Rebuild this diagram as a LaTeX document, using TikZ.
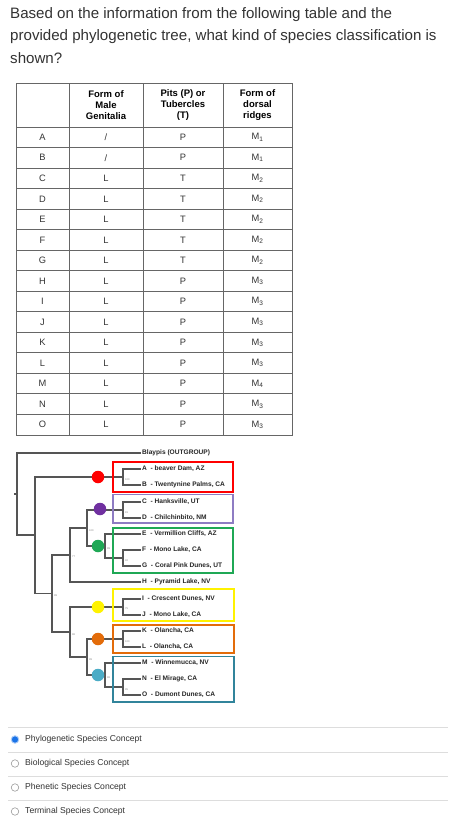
\documentclass[tikz,border=0pt]{standalone}
\usepackage{fontspec}
\setmainfont{Liberation Sans}
\definecolor{txt}{HTML}{333333}
\definecolor{gridc}{HTML}{666666}
\definecolor{brc}{HTML}{555555}
\definecolor{cRed}{HTML}{FF0000}
\definecolor{cPurple}{HTML}{7030A0}
\definecolor{cPurpleBox}{HTML}{8E7CC3}
\definecolor{cGreen}{HTML}{1FA855}
\definecolor{cYellow}{HTML}{FFF200}
\definecolor{cOrange}{HTML}{E36C0A}
\definecolor{cBlue}{HTML}{4BACC6}
\definecolor{cBlueBox}{HTML}{31849B}
\definecolor{sepc}{HTML}{DDDDDD}
\definecolor{radioc}{HTML}{9E9E9E}
\definecolor{selc}{HTML}{1A73E8}
\newcommand{\gslash}{/}
\begin{document}
\begin{tikzpicture}[x=1pt,y=-1pt,
  head/.style={anchor=base west, inner sep=0pt, font=\fontsize{15.1}{17}\selectfont, text=txt},
  gridline/.style={draw=gridc, line width=0.8pt},
  hdr/.style={align=center, inner sep=0pt, font=\fontsize{9.5}{11}\selectfont\bfseries, text=black},
  cell/.style={inner sep=0pt, font=\fontsize{9.3}{10}\selectfont, text=txt},
  br/.style={draw=brc, line width=1.2pt},
  leaf/.style={anchor=west, inner sep=1pt, font=\fontsize{6.6}{7}\selectfont\bfseries, text=black!85},
  boot/.style={inner sep=0pt, font=\fontsize{2.6}{3}\selectfont, text=gray, anchor=north west},
  cladebox/.style={line width=1.6pt},
  dot/.style={circle, inner sep=0pt, minimum size=12.5pt},
  sepline/.style={draw=sepc, line width=0.8pt},
  radio/.style={circle, draw=radioc, line width=0.6pt, inner sep=0pt, minimum size=7.5pt, fill=white},
  radiosel/.style={circle, draw=selc!35, line width=0.9pt, inner sep=0pt, minimum size=7.5pt, fill=selc},
  opt/.style={anchor=west, inner sep=0pt, font=\fontsize{8.6}{10}\selectfont, text=txt}
]
\useasboundingbox[fill=white] (0,0) rectangle (457,825);

% ---------- question ----------
\node[head] (q1) at (10,18) {Based on the information from the following table and the};
\node[head] (q2) at (10,40.5) {provided phylogenetic tree, what kind of species classification is};
\node[head] (q3) at (10,63) {shown?};

% ---------- table ----------
\draw[gridline] (16,83) rectangle (292,435);
\foreach \xx in {69,143,223} \draw[gridline] (\xx,83) -- (\xx,435);
\draw[gridline] (16,127) -- (292,127);
\foreach \k in {1,...,14} \draw[gridline] (16,127+20.53*\k) -- (292,127+20.53*\k);

\node[hdr] (h2) at (106,105) {Form of\\Male\\Genitalia};
\node[hdr] (h3) at (183,105) {Pits (P) or\\Tubercles\\(T)};
\node[hdr] (h4) at (257.5,105) {Form of\\dorsal\\ridges};

\foreach \la/\ge/\pt/\mm [count=\i from 0] in {A/\gslash/P/1, B/\gslash/P/1, C/L/T/2, D/L/T/2, E/L/T/2, F/L/T/2, G/L/T/2, H/L/P/3, I/L/P/3, J/L/P/3, K/L/P/3, L/L/P/3, M/L/P/4, N/L/P/3, O/L/P/3} {
  \node[cell] (ra\i) at (42.5,{127+20.53*(\i+0.5)}) {\la};
  \node[cell] (rb\i) at (106,{127+20.53*(\i+0.5)}) {\ge};
  \node[cell] (rc\i) at (183,{127+20.53*(\i+0.5)}) {\pt};
  \node[cell] (rd\i) at (257.5,{127+20.53*(\i+0.5)}) {M\textsubscript{\mm}};
}

% ---------- tree ----------
% leaves
\coordinate (lOG) at (141,453);
\coordinate (lA) at (141,469);
\coordinate (lB) at (141,485);
\coordinate (lC) at (141,502);
\coordinate (lD) at (141,518);
\coordinate (lE) at (141,534);
\coordinate (lF) at (141,550);
\coordinate (lG) at (141,566);
\coordinate (lH) at (141,582);
\coordinate (lI) at (141,599);
\coordinate (lJ) at (141,615);
\coordinate (lK) at (141,631);
\coordinate (lL) at (141,647);
\coordinate (lM) at (141,663);
\coordinate (lN) at (141,679);
\coordinate (lO) at (141,695);
% internal nodes
\coordinate (nAB) at (123,477);
\coordinate (nCD) at (123,510);
\coordinate (nFG) at (123,558);
\coordinate (nEFG) at (105,546);
\coordinate (nCG) at (87,528);
\coordinate (nCH) at (70,555);
\coordinate (nIJ) at (123,607);
\coordinate (nKL) at (123,639);
\coordinate (nNO) at (123,687);
\coordinate (nMNO) at (105,675);
\coordinate (nKO) at (87,657);
\coordinate (nIO) at (70,632);
\coordinate (nCO) at (52,593.5);
\coordinate (nIn) at (35,535);
\coordinate (nRoot) at (17,494);
\coordinate (stub) at (14,494);

\draw[br] (nRoot) |- (lOG);
\draw[br] (nRoot) |- (nIn);
\draw[br] (stub) -- (nRoot);
\draw[br] (nIn) |- (nAB);
\draw[br] (nIn) |- (nCO);
\draw[br] (nAB) |- (lA);
\draw[br] (nAB) |- (lB);
\draw[br] (nCO) |- (nCH);
\draw[br] (nCO) |- (nIO);
\draw[br] (nCH) |- (nCG);
\draw[br] (nCH) |- (lH);
\draw[br] (nCG) |- (nCD);
\draw[br] (nCG) |- (nEFG);
\draw[br] (nCD) |- (lC);
\draw[br] (nCD) |- (lD);
\draw[br] (nEFG) |- (lE);
\draw[br] (nEFG) |- (nFG);
\draw[br] (nFG) |- (lF);
\draw[br] (nFG) |- (lG);
\draw[br] (nIO) |- (nIJ);
\draw[br] (nIO) |- (nKO);
\draw[br] (nIJ) |- (lI);
\draw[br] (nIJ) |- (lJ);
\draw[br] (nKO) |- (nKL);
\draw[br] (nKO) |- (nMNO);
\draw[br] (nKL) |- (lK);
\draw[br] (nKL) |- (lL);
\draw[br] (nMNO) |- (lM);
\draw[br] (nMNO) |- (nNO);
\draw[br] (nNO) |- (lN);
\draw[br] (nNO) |- (lO);

% support values
\node[boot] (bAB) at (125,478) {100};
\node[boot] (bCD) at (125,511) {91};
\node[boot] (bFG) at (125,559) {92};
\node[boot] (bEFG) at (107,547) {99};
\node[boot] (bCG) at (89,529) {100};
\node[boot] (bCH) at (72,556) {77};
\node[boot] (bCO) at (54,594.5) {99};
\node[boot] (bIO) at (72,633) {96};
\node[boot] (bIJ) at (125,608) {75};
\node[boot] (bKL) at (125,640) {100};
\node[boot] (bKO) at (89,658) {99};
\node[boot] (bMNO) at (107,676) {96};
\node[boot] (bNO) at (125,688) {95};

% clade boxes
\draw[cladebox, draw=cRed] (113,462) rectangle (233,492);
\draw[cladebox, draw=cPurpleBox] (113,494.5) rectangle (233,523);
\draw[cladebox, draw=cGreen] (113,528) rectangle (233,573);
\draw[cladebox, draw=cYellow] (113,589) rectangle (234,621);
\draw[cladebox, draw=cOrange] (113,625) rectangle (234,653);
\draw[cladebox, draw=cBlueBox] (113,656.5) rectangle (234,702);

% clade dots
\node[dot, fill=cRed] (dRed) at (98,477) {};
\node[dot, fill=cPurple] (dPurple) at (100,509) {};
\node[dot, fill=cGreen] (dGreen) at (98,546) {};
\node[dot, fill=cYellow] (dYellow) at (98,607) {};
\node[dot, fill=cOrange] (dOrange) at (98,639) {};
\node[dot, fill=cBlue] (dBlue) at (98,675) {};

% leaf labels
\node[leaf] (tOG) at (lOG) {Blaypis (OUTGROUP)};
\node[leaf] (tA) at (lA) {A\ \ - beaver Dam, AZ};
\node[leaf] (tB) at (lB) {B\ \ - Twentynine Palms, CA};
\node[leaf] (tC) at (lC) {C\ \ - Hanksville, UT};
\node[leaf] (tD) at (lD) {D\ \ - Chilchinbito, NM};
\node[leaf] (tE) at (lE) {E\ \ - Vermillion Cliffs, AZ};
\node[leaf] (tF) at (lF) {F\ \ - Mono Lake, CA};
\node[leaf] (tG) at (lG) {G\ \ - Coral Pink Dunes, UT};
\node[leaf] (tH) at (lH) {H\ \ - Pyramid Lake, NV};
\node[leaf] (tI) at (lI) {I\ \ - Crescent Dunes, NV};
\node[leaf] (tJ) at (lJ) {J\ \ - Mono Lake, CA};
\node[leaf] (tK) at (lK) {K\ \ - Olancha, CA};
\node[leaf] (tL) at (lL) {L\ \ - Olancha, CA};
\node[leaf] (tM) at (lM) {M\ \ - Winnemucca, NV};
\node[leaf] (tN) at (lN) {N\ \ - El Mirage, CA};
\node[leaf] (tO) at (lO) {O\ \ - Dumont Dunes, CA};

% ---------- options ----------
\draw[sepline] (8,727) -- (448,727);
\draw[sepline] (8,752) -- (448,752);
\draw[sepline] (8,776) -- (448,776);
\draw[sepline] (8,800) -- (448,800);

\node[radiosel] (rad1) at (15,739.5) {};
\node[radio] (rad2) at (15,763.5) {};
\node[radio] (rad3) at (15,787.5) {};
\node[radio] (rad4) at (15,811.5) {};

\node[opt] (o1) at (25,739.5) {Phylogenetic Species Concept};
\node[opt] (o2) at (25,763.5) {Biological Species Concept};
\node[opt] (o3) at (25,787.5) {Phenetic Species Concept};
\node[opt] (o4) at (25,811.5) {Terminal Species Concept};
\end{tikzpicture}
\end{document}
